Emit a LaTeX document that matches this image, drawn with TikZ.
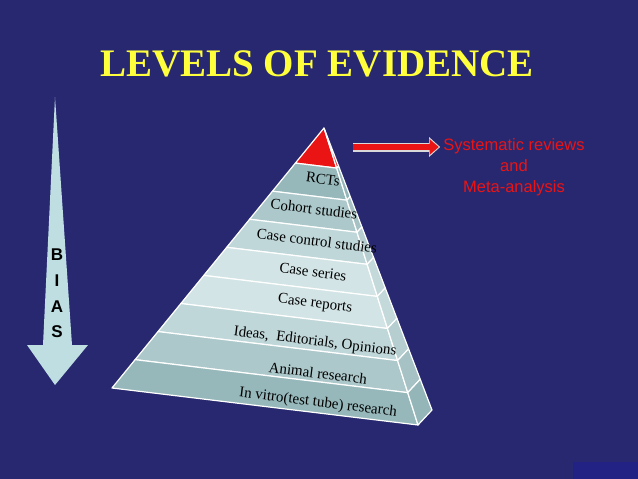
\documentclass[tikz,border=0pt]{standalone}
\usepackage{fontspec}
\setmainfont{Liberation Serif}
\newfontfamily\arialfont{Liberation Sans}
\usetikzlibrary{arrows.meta, calc}
\definecolor{navy}{RGB}{40,40,112}
\definecolor{titlecol}{RGB}{255,255,60}
\definecolor{biascol}{RGB}{190,222,226}
\definecolor{tipred}{RGB}{235,20,20}
\definecolor{bandA}{RGB}{150,184,186}
\definecolor{bandB}{RGB}{172,200,202}
\definecolor{bandC}{RGB}{192,215,217}
\definecolor{bandD}{RGB}{210,228,229}
\definecolor{sidecol}{RGB}{140,172,174}
\begin{document}
\begin{tikzpicture}[x=1pt, y=-1pt, >=Stealth]
            \tikzset{
                level/.style={font=\fontsize{15}{16}\selectfont, rotate=-7, text=black},
                band/.style={draw=white, line width=1.2pt, line join=round},
                biasletter/.style={font=\arialfont\bfseries\fontsize{17}{18}\selectfont, text=black}
            };
            \fill[navy] (0, 0) rectangle (638, 479);
            \useasboundingbox (0, 0) rectangle (638, 479);
            \fill[navy!85!blue] (573, 462) rectangle (638, 479);
            \node[font=\bfseries\fontsize{39}{41}\selectfont, text=titlecol] (title) at (317, 64) {LEVELS OF EVIDENCE};
            % bias arrow
            \fill[biascol] (55, 97) -- (72, 345) -- (88, 345) -- (55, 385) -- (27, 345) -- (43, 345) -- cycle;
            \node[biasletter] (b) at (57, 255) {B};
            \node[biasletter] (i) at (57, 281) {I};
            \node[biasletter] (a) at (57, 307) {A};
            \node[biasletter] (s) at (57, 332) {S};
            % pyramid
            \coordinate (apex) at (324, 128);
            \coordinate (left) at (112, 388);
            \coordinate (front) at (418, 425);
            \coordinate (back) at (432, 410);
            \foreach \ta/\tb/\col in {0/0.135/tipred, 0.135/0.243/bandA, 0.243/0.351/bandB, 0.351/0.459/bandC,
                    0.459/0.567/bandD, 0.567/0.675/bandD, 0.675/0.783/bandC, 0.783/0.891/bandB, 0.891/1/bandA}{
                \filldraw[band, fill=\col] ($(apex)!\ta!(left)$) -- ($(apex)!\ta!(front)$) -- ($(apex)!\tb!(front)$) -- ($(apex)!\tb!(left)$) -- cycle;
                \filldraw[band, fill=\col!80!sidecol] ($(apex)!\ta!(front)$) -- ($(apex)!\ta!(back)$) -- ($(apex)!\tb!(back)$) -- ($(apex)!\tb!(front)$) -- cycle;
            }
            \node[level] (rct) at (323, 179) {RCTs};
            \node[level] (cohort) at (314, 209) {Cohort studies};
            \node[level] (casecontrol) at (317, 241) {Case control studies};
            \node[level] (series) at (313, 272) {Case series};
            \node[level] (reports) at (315, 304) {Case reports};
            \node[level] (ideas) at (315, 342) {Ideas,\ \ Editorials, Opinions};
            \node[level] (animal) at (318, 373) {Animal research};
            \node[level] (vitro) at (318, 403) {In vitro(test tube) research};
            % systematic reviews
            \node[font=\arialfont\fontsize{16.5}{21}\selectfont, text=tipred, align=center, inner sep=1pt] (sys) at (514, 167) {Systematic reviews\\and\\Meta-analysis};
            \coordinate (tipside) at (353, 147);
            \draw[line width=9pt, white!70!gray, -{Triangle[length=11pt, width=19pt]}] (tipside) -- ([xshift=-2pt]sys.north west |- tipside);
            \draw[line width=6.5pt, tipred, -{Triangle[length=9pt, width=15pt]}] (tipside) -- ([xshift=-3.5pt]sys.north west |- tipside);
        \end{tikzpicture}
\end{document}
